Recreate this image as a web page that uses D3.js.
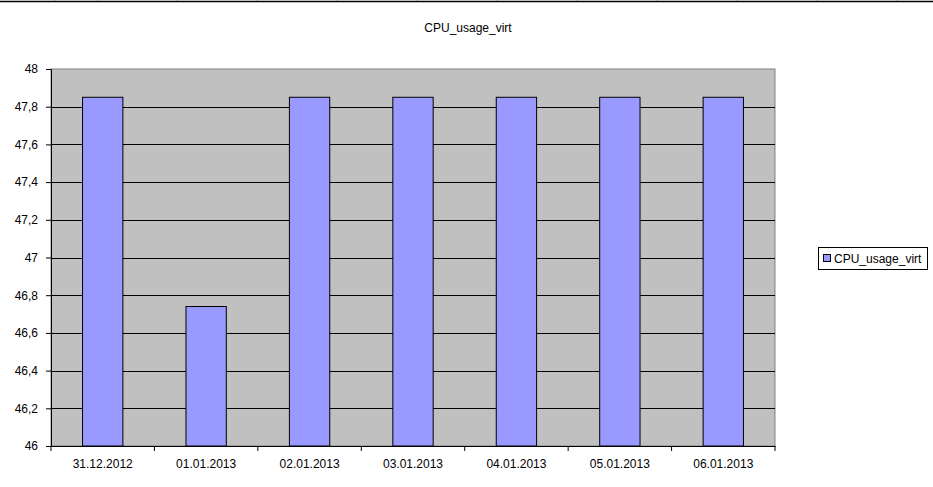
<!DOCTYPE html><html><head><script src="https://cdn.jsdelivr.net/npm/d3@7"></script>
<style>body{margin:0;background:#fff}text{font-family:Arial,"Liberation Sans",sans-serif;font-size:12px}</style></head><body>
<script>
const categories=["31.12.2012","01.01.2013","02.01.2013","03.01.2013","04.01.2013","05.01.2013","06.01.2013"];
const values=[47.85,46.74,47.85,47.85,47.85,47.85,47.85];
const yTicks=[46,46.2,46.4,46.6,46.8,47,47.2,47.4,47.6,47.8,48];
const seriesName="CPU_usage_virt";
const W=933,H=487,L=51,R=775,T=69,B=446;
const svg=d3.select("body").append("svg").attr("width",W).attr("height",H);
svg.append("line").attr("x1",0).attr("x2",W).attr("y1",1.5).attr("y2",1.5).attr("stroke","#000").attr("stroke-width",1.5);
[55,98,177,257,337,417,497,577,657,737,817,897].forEach(x=>svg.append("line").attr("x1",x).attr("x2",x).attr("y1",0).attr("y2",1).attr("stroke","#999"));
const x=d3.scaleBand().domain(categories).range([L,R]);
const y=d3.scaleLinear().domain([46,48]).range([B,T]);
svg.append("rect").attr("x",L).attr("y",T).attr("width",R-L).attr("height",B-T).attr("fill","#c0c0c0").attr("stroke","#808080");
svg.selectAll(".g").data(yTicks.slice(1,-1)).join("line").attr("x1",L).attr("x2",R).attr("y1",d=>Math.round(y(d))+0.5).attr("y2",d=>Math.round(y(d))+0.5).attr("stroke","#000");
const bw=x.bandwidth()*0.39;
svg.selectAll(".b").data(values).join("rect").attr("x",(d,i)=>x(categories[i])+(x.bandwidth()-bw)/2).attr("y",d=>y(d)).attr("width",bw).attr("height",d=>B-y(d)).attr("fill","#9999ff").attr("stroke","#000");
const ya=svg.append("g").attr("transform",`translate(${L},0)`).call(d3.axisLeft(y).tickValues(yTicks).tickSize(5).tickPadding(8).tickFormat(d=>d3.format(".1f")(d).replace(/\.0$/,"").replace(".",",")));
const xa=svg.append("g").attr("transform",`translate(0,${B})`).call(d3.axisBottom(x).tickSize(0).tickPadding(13));
svg.selectAll(".b2").data(d3.range(categories.length+1)).join("line").attr("x1",i=>L+i*x.step()).attr("x2",i=>L+i*x.step()).attr("y1",B).attr("y2",B+5).attr("stroke","#000");
[ya,xa].forEach(a=>{a.selectAll("path,line").attr("stroke","#000");a.selectAll("text").attr("fill","#000").style("font-size","12px");});
svg.append("text").attr("x",468).attr("y",32).attr("text-anchor","middle").text(seriesName);
const lg=svg.append("g");
lg.append("rect").attr("x",818.5).attr("y",247.5).attr("width",109).attr("height",22).attr("fill","#fff").attr("stroke","#000");
lg.append("rect").attr("x",823.5).attr("y",254.5).attr("width",7).attr("height",7).attr("fill","#9999ff").attr("stroke","#000");
lg.append("text").attr("x",834).attr("y",263).text(seriesName);
</script></body></html>
